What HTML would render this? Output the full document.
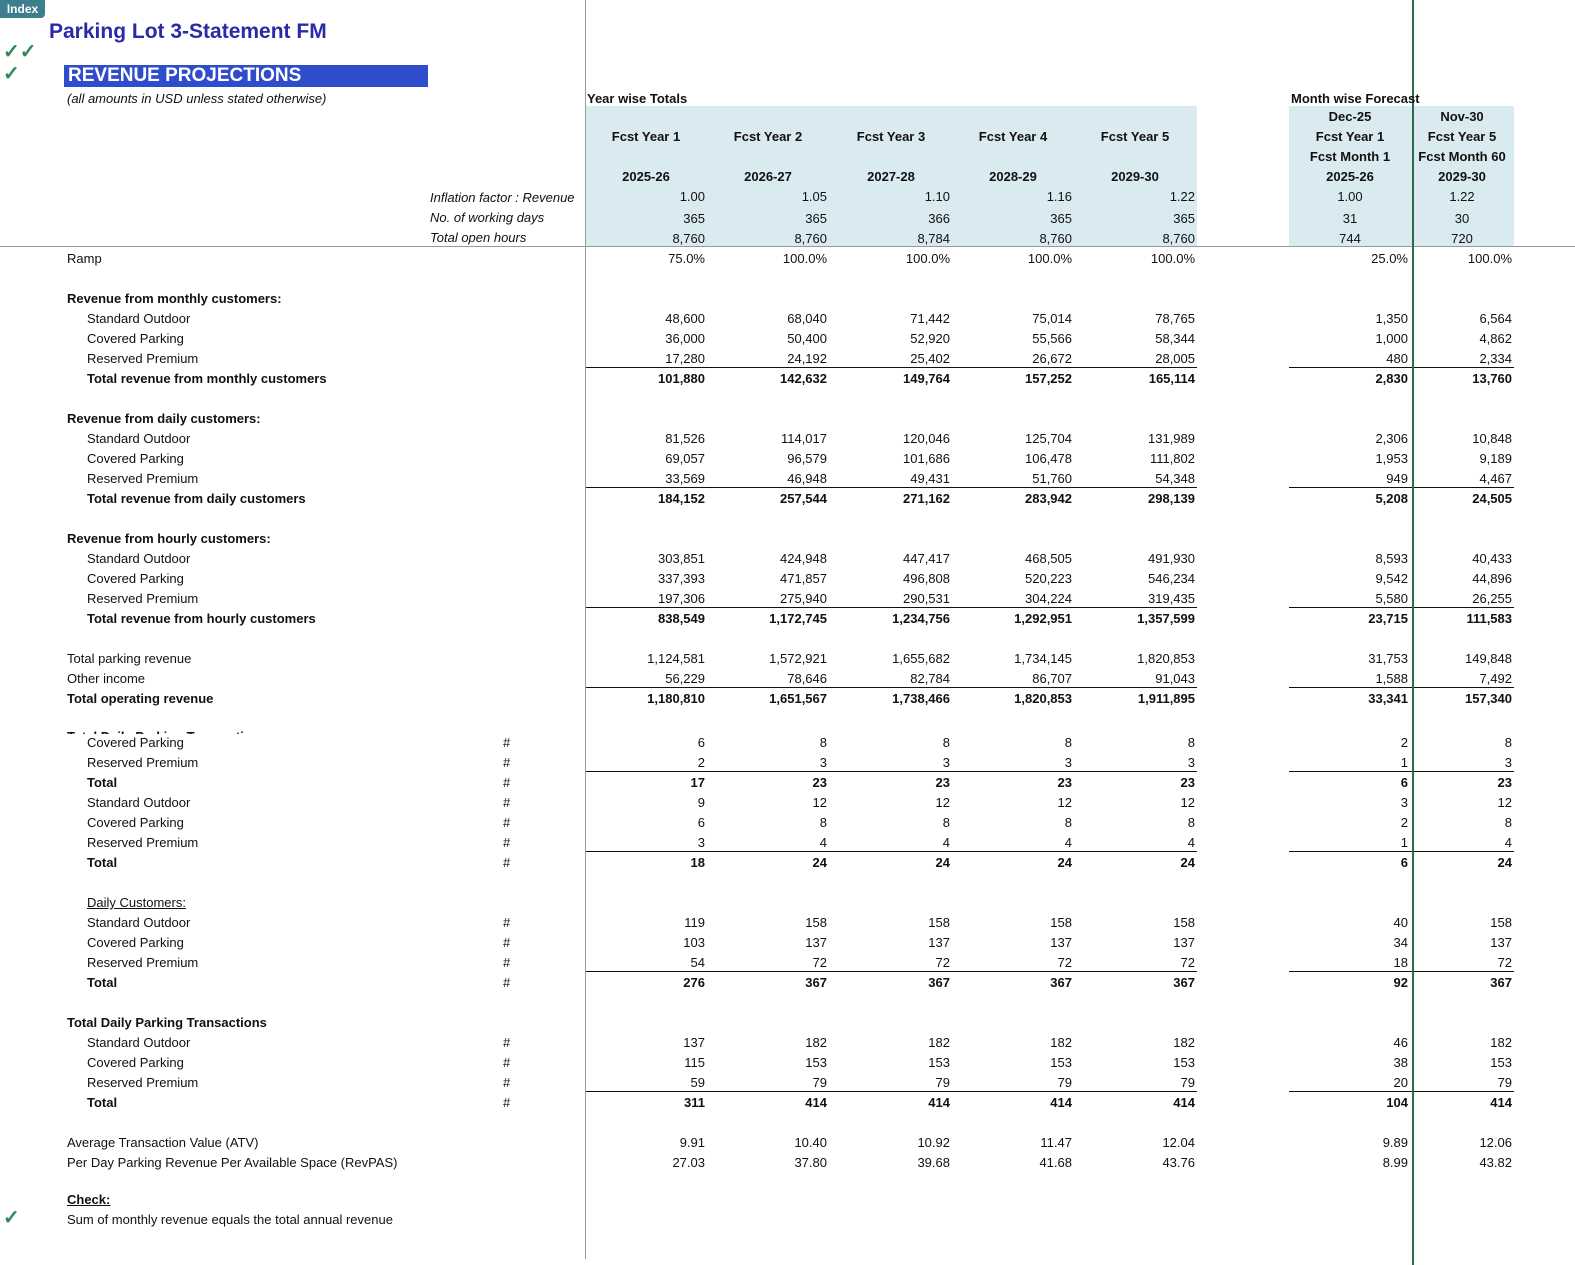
<!DOCTYPE html>
<html><head><meta charset="utf-8">
<style>
body{margin:0;width:1575px;height:1265px;background:#fff;position:relative;overflow:hidden;font-family:"Liberation Sans",Arial,sans-serif;font-size:13px;color:#111}
.a{position:absolute;white-space:nowrap;line-height:16px}
.r{text-align:right}
.c{text-align:center}
.b{font-weight:bold}
.ln{position:absolute;height:1px;background:#111}
</style></head><body>
<div class="a" style="left:0;top:0;width:45px;height:18px;background:#3d7f8f;color:#fff;font-weight:bold;font-size:12px;line-height:18px;text-align:center;border-radius:0 0 4px 0">Index</div>
<div class="a" style="left:49px;top:20px;font-size:21px;line-height:24px;font-weight:bold;color:#2a2aa8">Parking Lot 3-Statement FM</div>
<div class="a" style="left:3px;top:42px;font-size:20px;font-weight:bold;color:#2e8b57;line-height:20px">✓✓</div>
<div class="a" style="left:3px;top:64px;font-size:20px;font-weight:bold;color:#2e8b57;line-height:20px">✓</div>
<div class="a" style="left:64px;top:65px;width:360px;height:22px;background:#2e4ccc;color:#fff;font-weight:bold;font-size:19px;line-height:22px;padding-left:4px">REVENUE PROJECTIONS</div>
<div class="a" style="left:67px;top:91px;font-style:italic">(all amounts in USD unless stated otherwise)</div>

<div style="position:absolute;left:586px;top:106px;width:611px;height:140px;background:#daeaf1"></div>
<div style="position:absolute;left:1289px;top:106px;width:225px;height:140px;background:#daeaf1"></div>
<div style="position:absolute;left:585px;top:0;width:1px;height:1259px;background:#999"></div>
<div style="position:absolute;left:0;top:246px;width:1575px;height:1px;background:#999"></div>
<div style="position:absolute;left:1412px;top:0;width:2px;height:1265px;background:#2f6b45"></div>

<div class="a b" style="left:587px;top:91px">Year wise Totals</div>
<div class="a b" style="left:1291px;top:91px">Month wise Forecast</div>

<div class="a" style="left:430px;top:190px;font-style:italic">Inflation factor : Revenue</div>
<div class="a" style="left:430px;top:210px;font-style:italic">No. of working days</div>
<div class="a" style="left:430px;top:230px;font-style:italic">Total open hours</div>

<div class="a b" style="left:67px;top:729px;height:5px;overflow:hidden;line-height:16px;color:#111">Total Daily Parking Transactions</div>

<div class="a b" style="left:67px;top:1192px;text-decoration:underline">Check:</div>
<div class="a" style="left:3px;top:1207px;font-size:20px;font-weight:bold;color:#2e8b57;line-height:22px">✓</div>
<div class="a" style="left:67px;top:1212px">Sum of monthly revenue equals the total annual revenue</div>

<script>
const colRight=[705,827,950,1072,1195,1410,1512];
const colCenter=[646,768,891,1013,1135,1350,1462];
const headYear=["Fcst Year 1","Fcst Year 2","Fcst Year 3","Fcst Year 4","Fcst Year 5"];
const headFY=["2025-26","2026-27","2027-28","2028-29","2029-30"];
const headMonthDate=["Dec-25","Nov-30"];
const headMonthYear=["Fcst Year 1","Fcst Year 5"];
const headMonthNo=["Fcst Month 1","Fcst Month 60"];
const headMonthFY=["2025-26","2029-30"];
const inflation=["1.00","1.05","1.10","1.16","1.22","1.00","1.22"];
const workDays=["365","365","366","365","365","31","30"];
const openHours=["8,760","8,760","8,784","8,760","8,760","744","720"];
const rowLabels=[
[258,"Ramp",67,0,0,0],
[298,"Revenue from monthly customers:",67,1,0,0],
[318,"Standard Outdoor",87,0,0,0],[338,"Covered Parking",87,0,0,0],[358,"Reserved Premium",87,0,0,0],
[378,"Total revenue from monthly customers",87,1,0,1],
[418,"Revenue from daily customers:",67,1,0,0],
[438,"Standard Outdoor",87,0,0,0],[458,"Covered Parking",87,0,0,0],[478,"Reserved Premium",87,0,0,0],
[498,"Total revenue from daily customers",87,1,0,1],
[538,"Revenue from hourly customers:",67,1,0,0],
[558,"Standard Outdoor",87,0,0,0],[578,"Covered Parking",87,0,0,0],[598,"Reserved Premium",87,0,0,0],
[618,"Total revenue from hourly customers",87,1,0,1],
[658,"Total parking revenue",67,0,0,0],[678,"Other income",67,0,0,0],
[698,"Total operating revenue",67,1,0,1],
[742,"Covered Parking",87,0,1,0],[762,"Reserved Premium",87,0,1,0],[782,"Total",87,1,1,1],
[802,"Standard Outdoor",87,0,1,0],[822,"Covered Parking",87,0,1,0],[842,"Reserved Premium",87,0,1,0],[862,"Total",87,1,1,1],
[902,"Daily Customers:",87,0,0,0,1],
[922,"Standard Outdoor",87,0,1,0],[942,"Covered Parking",87,0,1,0],[962,"Reserved Premium",87,0,1,0],[982,"Total",87,1,1,1],
[1022,"Total Daily Parking Transactions",67,1,0,0],
[1042,"Standard Outdoor",87,0,1,0],[1062,"Covered Parking",87,0,1,0],[1082,"Reserved Premium",87,0,1,0],[1102,"Total",87,1,1,1],
[1142,"Average Transaction Value (ATV)",67,0,0,0],
[1162,"Per Day Parking Revenue Per Available Space (RevPAS)",67,0,0,0]
];
const rowValues=[
["75.0%","100.0%","100.0%","100.0%","100.0%","25.0%","100.0%"],
null,
["48,600","68,040","71,442","75,014","78,765","1,350","6,564"],
["36,000","50,400","52,920","55,566","58,344","1,000","4,862"],
["17,280","24,192","25,402","26,672","28,005","480","2,334"],
["101,880","142,632","149,764","157,252","165,114","2,830","13,760"],
null,
["81,526","114,017","120,046","125,704","131,989","2,306","10,848"],
["69,057","96,579","101,686","106,478","111,802","1,953","9,189"],
["33,569","46,948","49,431","51,760","54,348","949","4,467"],
["184,152","257,544","271,162","283,942","298,139","5,208","24,505"],
null,
["303,851","424,948","447,417","468,505","491,930","8,593","40,433"],
["337,393","471,857","496,808","520,223","546,234","9,542","44,896"],
["197,306","275,940","290,531","304,224","319,435","5,580","26,255"],
["838,549","1,172,745","1,234,756","1,292,951","1,357,599","23,715","111,583"],
["1,124,581","1,572,921","1,655,682","1,734,145","1,820,853","31,753","149,848"],
["56,229","78,646","82,784","86,707","91,043","1,588","7,492"],
["1,180,810","1,651,567","1,738,466","1,820,853","1,911,895","33,341","157,340"],
["6","8","8","8","8","2","8"],
["2","3","3","3","3","1","3"],
["17","23","23","23","23","6","23"],
["9","12","12","12","12","3","12"],
["6","8","8","8","8","2","8"],
["3","4","4","4","4","1","4"],
["18","24","24","24","24","6","24"],
null,
["119","158","158","158","158","40","158"],
["103","137","137","137","137","34","137"],
["54","72","72","72","72","18","72"],
["276","367","367","367","367","92","367"],
null,
["137","182","182","182","182","46","182"],
["115","153","153","153","153","38","153"],
["59","79","79","79","79","20","79"],
["311","414","414","414","414","104","414"],
["9.91","10.40","10.92","11.47","12.04","9.89","12.06"],
["27.03","37.80","39.68","41.68","43.76","8.99","43.82"]
];
function txt(x,y,s,cls,w){
  const d=document.createElement('div');
  d.className='a '+cls;
  d.textContent=s;
  if(cls.indexOf('r')>=0){d.style.left=(x-w)+'px';d.style.width=w+'px';}
  else if(cls.indexOf('c')>=0){d.style.left=(x-w/2)+'px';d.style.width=w+'px';}
  else d.style.left=x+'px';
  d.style.top=(y-7)+'px';
  document.body.appendChild(d);
  return d;
}
function line(x1,x2,y){
  const l=document.createElement('div');
  l.className='ln';
  
  
  l.style.left=x1+'px';l.style.width=(x2-x1)+'px';l.style.top=y+'px';
  document.body.appendChild(l);
}
headYear.forEach((s,i)=>{
  const e=txt(colCenter[i],136,s,'c b',120);
  
  
  const f=txt(colCenter[i],176,headFY[i],'c b',120);
  
  
});
headMonthDate.forEach((s,i)=>{
  const c=colCenter[5+i];
  const a=txt(c,116,s,'c b',120);
  
  
  const b=txt(c,136,headMonthYear[i],'c b',120);
  
  
  const d=txt(c,156,headMonthNo[i],'c b',120);
  
  
  const f=txt(c,176,headMonthFY[i],'c b',120);
  
  
});
[[196,inflation],[218,workDays],[238,openHours]].forEach(([y,arr])=>{
  arr.forEach((v,i)=>{
    const e=i<5?txt(colRight[i],y,v,'r',110):txt(colCenter[i],y,v,'c',110);
    
    
  });
});
rowLabels.forEach((r,k)=>{
  const [y,label,x,bold,hash,above,und]=r;
  const e=txt(x,y,label,bold?'b':'',0);
  
  
  if(und)e.style.textDecoration='underline';
  if(hash){
    const h=txt(503,y,'#','',0);
    
    
  }
  if(above){line(586,1197,y-11);line(1289,1412,y-11);line(1414,1514,y-11);}
  const vals=rowValues[k];
  if(vals)vals.forEach((v,i)=>{
    const c=txt(colRight[i]-(i==5?2:0),y,v,bold?'r b':'r',115);
    
    
  });
});
</script>
</body></html>
